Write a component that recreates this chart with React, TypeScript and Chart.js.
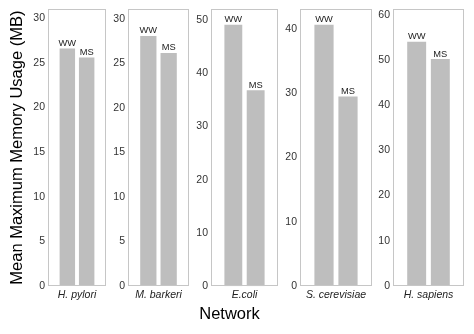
import React, { useEffect, useRef } from 'react';
import { Chart, registerables } from 'chart.js';

Chart.register(...registerables);
Chart.defaults.font.family = '"Liberation Sans", Arial, Helvetica, sans-serif';

// ---- data ----
const networks = ['H. pylori', 'M. barkeri', 'E.coli', 'S. cerevisiae', 'H. sapiens'];
const methods = ['WW', 'MS'];
const wwValues = [26.6, 28.1, 49.1, 40.7, 54.0];
const msValues = [25.6, 26.2, 36.8, 29.5, 50.2];
const yMax = [31.0, 31.1, 52.0, 43.1, 61.2];
const yStep = [5, 5, 10, 10, 10];
const yTitle = 'Mean Maximum Memory Usage (MB)';
const xTitle = 'Network';

// ---- layout ----
const panelLeft = [48, 128, 211, 300, 393];
const panelRight = [106, 189, 278, 372, 464];

const panelDecor = {
  id: 'panelDecor',
  afterDatasetsDraw(chart: any) {
    const { ctx, chartArea: a } = chart;
    ctx.save();
    ctx.strokeStyle = '#c6c6c6';
    ctx.lineWidth = 1;
    ctx.strokeRect(
      Math.round(a.left) + 0.5,
      Math.round(a.top) + 0.5,
      Math.round(a.right - a.left) - 1,
      Math.round(a.bottom - a.top) - 1
    );
    const meta = chart.getDatasetMeta(0);
    ctx.font = '9.3px "Liberation Sans", Arial, sans-serif';
    ctx.fillStyle = '#222';
    ctx.textAlign = 'center';
    ctx.textBaseline = 'alphabetic';
    meta.data.forEach((el: any, k: number) => {
      ctx.fillText(methods[k], el.x, el.y - 2.5);
    });
    ctx.restore();
  },
};

function Panel({ i }: { i: number }) {
  const ref = useRef<HTMLCanvasElement>(null);
  const canvasLeft = i === 0 ? 0 : panelLeft[i] - 30;
  const padRight = i === 2 ? 24 : 1;
  const canvasWidth = panelRight[i] + padRight - canvasLeft;
  const canvasHeight = i === 2 ? 324 : 304;

  useEffect(() => {
    const values = [wwValues[i], msValues[i]];
    const chart = new Chart(ref.current as HTMLCanvasElement, {
      type: 'bar',
      data: {
        datasets: [
          {
            data: methods.map((_m, k) => ({ x: k + 1, y: values[k] })),
            backgroundColor: '#bebebe',
            borderWidth: 0,
            categoryPercentage: 1,
            barPercentage: 0.8,
          } as any,
        ],
      },
      options: {
        responsive: false,
        animation: false,
        layout: { padding: { top: 9, right: padRight, left: 0, bottom: 0 } },
        plugins: {
          legend: { display: false },
          tooltip: { enabled: false },
          title:
            i === 2
              ? {
                  display: true,
                  position: 'bottom',
                  text: xTitle,
                  font: { size: 16.5, weight: 'normal' },
                  color: '#000',
                  padding: 0,
                }
              : { display: false },
        },
        scales: {
          x: {
            type: 'linear',
            min: 0,
            max: 3,
            offset: false,
            grid: { display: false, drawTicks: false },
            border: { display: false },
            ticks: { display: false },
            title: {
              display: true,
              text: networks[i],
              font: { size: 10.5, style: 'italic' },
              color: '#222',
              padding: { top: 0, bottom: 2.7 },
            },
            afterFit: (s: any) => {
              s.height = 18;
            },
          },
          y: {
            min: 0,
            max: yMax[i],
            ticks: {
              stepSize: yStep[i],
              includeBounds: false,
              padding: 3,
              font: { size: 10.5 },
              color: '#333',
            },
            grid: { display: false, drawTicks: false },
            border: { display: false },
            title:
              i === 0
                ? {
                    display: true,
                    text: yTitle,
                    font: { size: 16.5 },
                    color: '#000',
                    padding: { top: 8, bottom: 0 },
                  }
                : { display: false },
            afterFit: (s: any) => {
              s.width = panelLeft[i] - canvasLeft;
            },
          },
        },
      } as any,
      plugins: [panelDecor],
    });
    return () => chart.destroy();
  }, []);

  return (
    <canvas
      ref={ref}
      width={canvasWidth}
      height={canvasHeight}
      style={{ position: 'absolute', left: canvasLeft, top: 0, width: canvasWidth, height: canvasHeight }}
    />
  );
}

export default function App() {
  return (
    <div style={{ position: 'absolute', left: 0, top: 0, width: 474, height: 334, background: '#fff' }}>
      {networks.map((_n, i) => (
        <Panel key={i} i={i} />
      ))}
    </div>
  );
}
